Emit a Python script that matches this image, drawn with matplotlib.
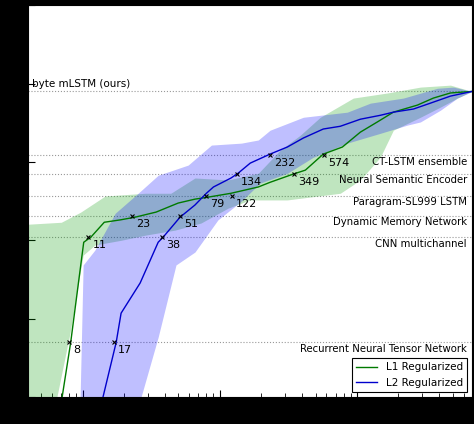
import matplotlib
matplotlib.use("Agg")
import matplotlib.pyplot as plt
import numpy as np

# benchmarks
bench_names = ["byte mLSTM (ours)", "CT-LSTM ensemble", "Neural Semantic Encoder",
               "Paragram-SL999 LSTM", "Dynamic Memory Network", "CNN multichannel",
               "Recurrent Neural Tensor Network"]
bench_vals = [91.8, 90.17, 89.69, 89.13, 88.62, 88.08, 85.40]

# L1 curve
l1_x = [7.1, 8.2, 10.2, 11.5, 14.4, 18.8, 24.2, 34.4, 49.8, 66, 82, 121, 191, 233, 344, 421,
        569, 784, 1060, 1410, 1845, 2761, 3615, 4809, 6920]
l1_y = [84.0, 85.40, 87.95, 88.08, 88.46, 88.52, 88.59, 88.72, 88.95, 89.05, 89.10, 89.20,
        89.36, 89.48, 89.69, 89.79, 90.20, 90.38, 90.76, 91.02, 91.27, 91.45, 91.63, 91.76, 91.80]
l1_up_x = [4, 7.0, 9.7, 14.6, 28.6, 44, 66, 115, 191, 276, 386, 541, 942, 1669, 2905, 4809, 6920]
l1_up_y = [88.41, 88.46, 88.72, 89.13, 89.20, 89.20, 89.59, 89.54, 89.71, 90.30, 90.68, 91.14,
           91.63, 91.76, 91.91, 91.96, 91.80]
l1_lo_x = [4, 6.5, 8.1, 10.1, 12.3, 19.1, 28.6, 47.3, 73, 115, 167, 311, 757, 1060, 1482,
           1845, 2905, 4065, 5408, 6920]
l1_lo_y = [83.0, 84.0, 85.63, 87.62, 87.88, 88.0, 88.13, 88.26, 88.44, 88.82, 89.03, 89.03,
           89.20, 89.54, 90.12, 90.81, 91.14, 91.40, 91.63, 91.80]
l1_marks = [8, 11, 23, 122, 349, 574]
l1_mark_y = [85.40, 88.08, 88.62, 89.13, 89.69, 90.17]

# L2 curve
l2_x = [14.1, 17.6, 19.1, 26.3, 35.6, 38.7, 51.4, 66, 80, 90, 121, 136, 167, 233, 311, 407,
        569, 757, 1060, 1482, 1845, 2583, 3436, 4809, 6920]
l2_y = [84.0, 85.40, 86.14, 86.91, 87.95, 88.08, 88.59, 88.90, 89.20, 89.36, 89.59, 89.71,
        89.97, 90.20, 90.38, 90.61, 90.84, 90.91, 91.09, 91.19, 91.27, 91.35, 91.50, 91.68, 91.80]
l2_up_x = [9.6, 10.1, 12.3, 17.3, 25.4, 35.6, 58.9, 87, 144, 191, 233, 407, 851, 1253, 2184,
           3865, 5058, 6920]
l2_up_y = [84.0, 87.37, 87.75, 88.69, 89.20, 89.66, 89.92, 90.43, 90.48, 90.56, 90.81, 91.14,
           91.27, 91.50, 91.63, 91.88, 91.91, 91.80]
l2_lo_x = [26.7, 35.6, 48, 66, 97, 144, 197, 311, 481, 851, 1482, 2335, 2905, 4065, 5408, 6920]
l2_lo_y = [84.0, 85.53, 87.37, 87.70, 88.52, 89.0, 89.46, 89.71, 90.12, 90.48, 90.73, 90.94,
           91.02, 91.32, 91.63, 91.80]
l2_marks = [17, 38, 51, 79, 134, 232]
l2_mark_y = [85.40, 88.08, 88.62, 89.13, 89.69, 90.17]

fig = plt.figure(figsize=(4.74, 4.24), dpi=100, facecolor="black")
ax = fig.add_axes([0.059, 0.0637, 0.937, 0.924])
ax.set_facecolor("white")
ax.set_xscale("log")
ax.set_xlim(4, 6920)
ax.set_ylim(84, 94)

for n, v in zip(bench_names, bench_vals):
    ax.axhline(v, color="#999999", ls=":", lw=0.8, zorder=1)

green = "#007a00"
blue = "#0000cc"

def band(xu, yu, xl, yl, color):
    xs = np.unique(np.concatenate([xu, xl]))
    lx = np.log(xs)
    up = np.interp(lx, np.log(xu), yu)
    lo = np.interp(lx, np.log(xl), yl)
    ax.fill_between(xs, lo, up, color=color, alpha=0.25, lw=0, zorder=2)

band(l1_up_x, l1_up_y, l1_lo_x, l1_lo_y, "#009900")
band(l2_up_x, l2_up_y, l2_lo_x, l2_lo_y, "#0000ff")
ax.plot(l1_x, l1_y, color=green, lw=1.0, label="L1 Regularized", zorder=3)
ax.plot(l2_x, l2_y, color=blue, lw=1.0, label="L2 Regularized", zorder=3)

for xs, ys in ((l1_marks, l1_mark_y), (l2_marks, l2_mark_y)):
    ax.plot(xs, ys, ls="none", marker="x", ms=3, mew=0.8, color="black", zorder=4)
    for x, y in zip(xs, ys):
        ax.annotate(str(x), (x, y), xytext=(3, -2), textcoords="offset points",
                    ha="left", va="top", fontsize=8, zorder=5)

ax.annotate(bench_names[0], (0.008, bench_vals[0]), xycoords=ax.get_yaxis_transform(),
            xytext=(0, 2), textcoords="offset points",
            ha="left", va="bottom", fontsize=7.5)
for n, v in zip(bench_names[1:], bench_vals[1:]):
    ax.annotate(n, (0.988, v), xycoords=ax.get_yaxis_transform(),
                xytext=(0, -1), textcoords="offset points",
                ha="right", va="top", fontsize=7.3)

ax.set_yticks([84, 86, 88, 90, 92, 94])
ax.tick_params(which="both", direction="in", top=False, right=False, labelcolor="black",
               labelsize=8)
ax.tick_params(which="major", length=5)
ax.tick_params(which="minor", length=3)
leg = ax.legend(loc="lower right", fontsize=7.5, frameon=True, fancybox=False,
                edgecolor="black", framealpha=1, handlelength=2)
leg.get_frame().set_linewidth(0.8)
fig.savefig("out.png", dpi=100, facecolor="black")
